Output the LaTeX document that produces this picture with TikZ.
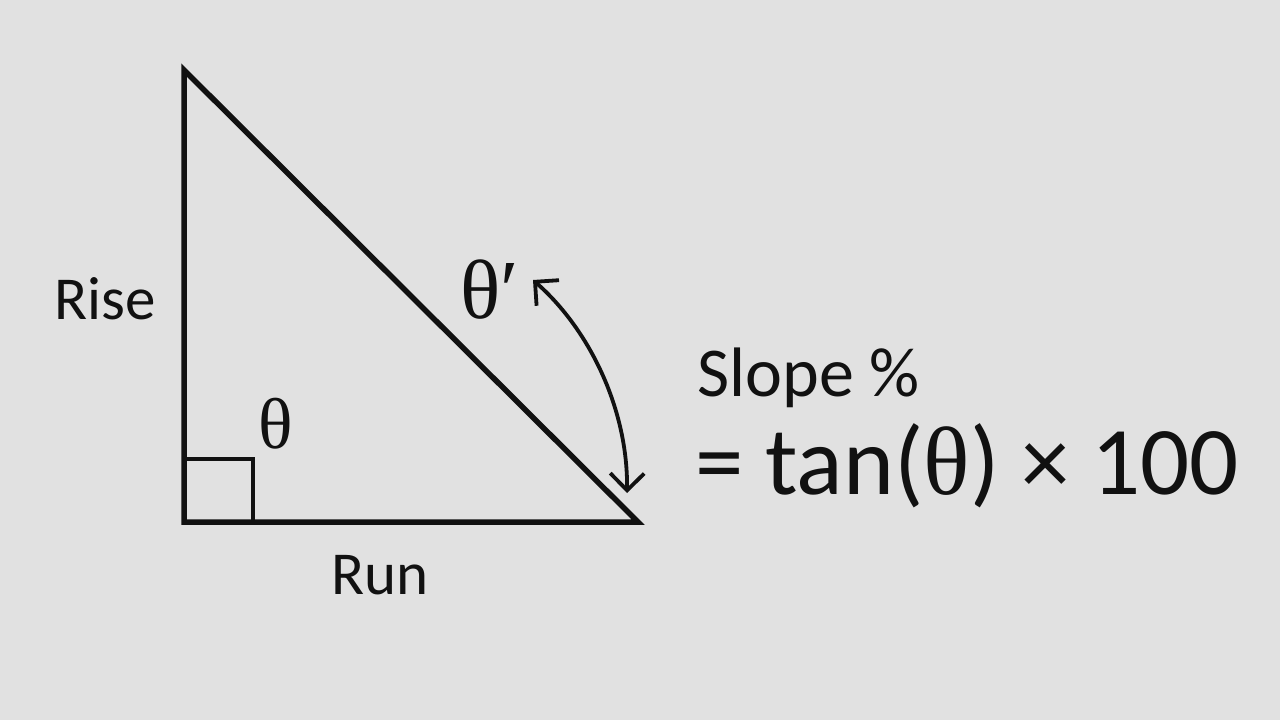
\documentclass[tikz,border=0pt]{standalone}
\usepackage{fontspec}
\setmainfont{Carlito}
\newfontfamily\thfont{Liberation Serif}
\usetikzlibrary{arrows.meta}
\definecolor{bg}{HTML}{E1E1E1}
\definecolor{ink}{HTML}{111111}
\tikzset{
  edge/.style={draw=ink, line width=5.5pt, line join=miter},
  lbl/.style={text=ink, inner sep=0pt, anchor=center},
  tipb/.style={Straight Barb[length=17pt,width=34pt,line width=3.8pt]},
  arc/.style={draw=ink, line width=3.8pt, {Straight Barb[length=17pt,width=34pt,line width=3.8pt]}-{Straight Barb[length=17pt,width=34pt,line width=3.8pt]}}
}
\begin{document}
\begin{tikzpicture}[x=1pt,y=-1pt]
\fill[bg] (0,0) rectangle (1280,720);
\useasboundingbox (0,0) rectangle (1280,720);
\coordinate (top) at (184,70);
\coordinate (corner) at (184,522);
\coordinate (right) at (638,522);
\coordinate (sqa) at (184,459);
\coordinate (sqb) at (253,459);
\coordinate (sqc) at (253,522);
\draw[edge] (top) -- (corner) -- (right) -- cycle;
\draw[edge, line width=4.5pt] (sqa) -- (sqb) -- (sqc);
\node[lbl, font=\fontsize{61}{61}\selectfont] (rise) at (105,299) {Rise};
\node[lbl, font=\fontsize{61}{61}\selectfont] (run) at (380,575) {Run};
\node[lbl, font=\thfont\fontsize{72}{72}\selectfont] (th) at (276,424) {θ};
\node[lbl, font=\thfont\fontsize{84}{84}\selectfont] (thp) at (490,290) {θ′};
\coordinate (a1) at (533,280);
\coordinate (a2) at (627,493);
\draw[arc] (a1) .. controls (590,330) and (628,410) .. (a2);
\node[lbl, font=\fontsize{70}{70}\selectfont, anchor=west] (slope) at (697,378) {Slope \%};
\node[lbl, font=\fontsize{97}{97}\selectfont, anchor=west] (formula) at (695,466) {= tan(\thfont θ\rmfamily) × 100};
\end{tikzpicture}
\end{document}
